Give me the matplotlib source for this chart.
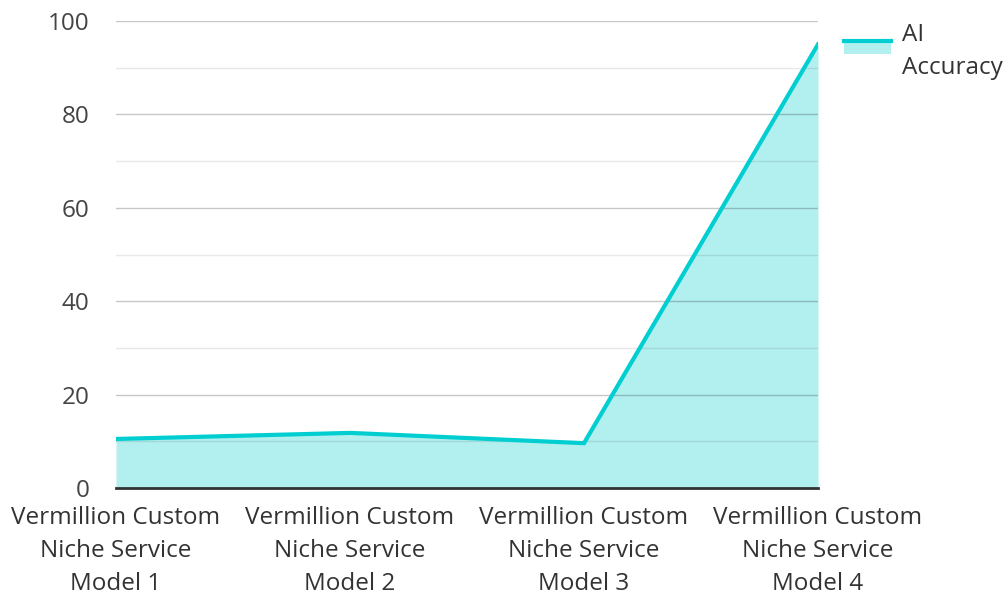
import matplotlib
matplotlib.use("Agg")
from matplotlib import pyplot as plt
from matplotlib.patches import Rectangle
from matplotlib.lines import Line2D
from matplotlib.legend_handler import HandlerBase
import numpy as np

models = ["Vermillion Custom\nNiche Service\nModel 1",
          "Vermillion Custom\nNiche Service\nModel 2",
          "Vermillion Custom\nNiche Service\nModel 3",
          "Vermillion Custom\nNiche Service\nModel 4"]
accuracy = [10.5, 11.8, 9.6, 95]
series_name = "AI\nAccuracy"

line_col = "#00CED1"
fill_col = "#B2EFEF"
FS = 17.5

plt.rcParams['font.family'] = ['Open Sans', 'DejaVu Sans']


class AreaHandler(HandlerBase):
    # patch with the line on its top edge, aligned with the first text line
    def create_artists(self, legend, orig, xd, yd, w, h, fs, trans):
        top = -yd + h / 2 + 0.45 * fs
        r = Rectangle((-xd, top - 0.55 * fs), w, 0.55 * fs, facecolor=fill_col,
                      edgecolor="none", transform=trans)
        l = Line2D([-xd, -xd + w], [top, top], color=line_col, lw=3,
                   transform=trans)
        return [r, l]


fig = plt.figure(figsize=(10.08, 5.92), dpi=100)
ax = fig.add_axes([116/1008, 1 - 488/592, (818 - 116)/1008, (488 - 21)/592])

x = np.arange(len(models))
ax.fill_between(x, 0, accuracy, color=fill_col, lw=0, zorder=1)
ax.plot(x, accuracy, color=line_col, lw=3, zorder=3, solid_joinstyle="miter")

ax.set_xlim(0, 3)
ax.set_ylim(0, 100)
ax.set_yticks(np.arange(0, 101, 20))
ax.set_yticks(np.arange(10, 100, 20), minor=True)
ax.set_axisbelow(False)
ax.grid(axis="y", which="major", color="black", lw=1, alpha=0.22)
ax.grid(axis="y", which="minor", color="black", lw=1, alpha=0.09)

ax.set_xticks(x)
ax.set_xticklabels(models, fontsize=FS, color="#333333", linespacing=1.5)
ax.tick_params(axis="y", which="both", length=0, pad=19, labelsize=FS, labelcolor="#444444")
ax.tick_params(axis="x", length=0, pad=13)

for s in ["top", "right", "left"]:
    ax.spines[s].set_visible(False)
ax.spines["bottom"].set_color("#333333")
ax.spines["bottom"].set_linewidth(2)
ax.spines["bottom"].set_zorder(4)

dummy = Rectangle((0, 0), 1, 1)
leg = ax.legend([dummy], [series_name], handler_map={Rectangle: AreaHandler()},
                loc="upper left", bbox_to_anchor=(1.023, 1.017), frameon=False,
                fontsize=FS, handlelength=1.95, handletextpad=0.45,
                borderaxespad=0, labelcolor="#333333")
for t in leg.get_texts():
    t.set_linespacing(1.5)

fig.savefig("out.png", dpi=100)
